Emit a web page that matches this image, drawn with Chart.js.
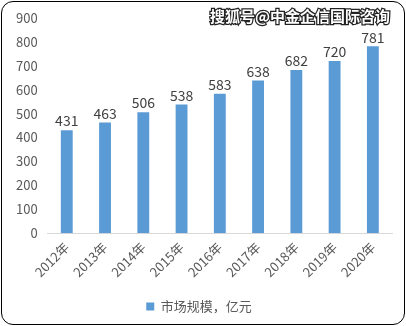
<!DOCTYPE html>
<html>
<head>
<meta charset="utf-8">
<script src="https://cdn.jsdelivr.net/npm/chart.js@4"></script>
<style>
  body { margin: 0; background: #fff; }
  #wrap { position: relative; width: 406px; height: 326px; }
  #frame { position: absolute; left: 1px; top: 1px; width: 402px; height: 322px;
           border: 1px solid #000; border-radius: 12px; pointer-events: none; }
</style>
</head>
<body>
<div id="wrap">
  <canvas id="barChart" width="406" height="326"></canvas>
  <div id="frame"></div>
</div>
<script>
const years = ["2012年", "2013年", "2014年", "2015年", "2016年", "2017年", "2018年", "2019年", "2020年"];
const marketSize = [431, 463, 506, 538, 583, 638, 682, 720, 781];
const seriesName = "市场规模，亿元";
const watermark = "搜狐号@中金企信国际咨询";

const fontFamily = "'Noto Sans CJK SC', 'Noto Sans', sans-serif";

// values above bars + watermark
const labelPlugin = {
  id: "barLabels",
  afterDatasetsDraw(chart) {
    const ctx = chart.ctx;
    const meta = chart.getDatasetMeta(0);
    ctx.save();
    ctx.font = "14px " + fontFamily;
    ctx.fillStyle = "#404040";
    ctx.textAlign = "center";
    ctx.textBaseline = "bottom";
    meta.data.forEach((bar, i) => {
      ctx.fillText(marketSize[i], bar.x, bar.y - 2);
    });
    ctx.restore();
  },
  afterDraw(chart) {
    const ctx = chart.ctx;
    ctx.save();
    ctx.font = "bold 15px " + fontFamily;
    ctx.textAlign = "right";
    ctx.textBaseline = "middle";
    ctx.lineWidth = 2.5;
    ctx.strokeStyle = "#222";
    ctx.strokeText(watermark, 390, 16);
    ctx.fillStyle = "#fff";
    ctx.fillText(watermark, 390, 16);
    ctx.restore();
  }
};

new Chart(document.getElementById("barChart"), {
  type: "bar",
  data: {
    labels: years,
    datasets: [{
      label: seriesName,
      data: marketSize,
      backgroundColor: "#5b9bd5",
      barPercentage: 0.31,
      categoryPercentage: 1
    }]
  },
  options: {
    responsive: false,
    animation: false,
    layout: { padding: { top: 7, left: 6, right: 14, bottom: 3 } },
    scales: {
      y: {
        min: 0,
        max: 900,
        ticks: { stepSize: 100, color: "#595959", font: { size: 13, family: fontFamily }, padding: 10 },
        grid: { display: false, drawTicks: false },
        border: { display: false }
      },
      x: {
        ticks: { minRotation: 45, maxRotation: 45, color: "#595959", font: { size: 13, family: fontFamily }, padding: 6 },
        grid: { display: false, drawTicks: false },
        border: { display: true, color: "#d9d9d9" }
      }
    },
    plugins: {
      legend: {
        position: "bottom",
        labels: { boxWidth: 8, boxHeight: 8, color: "#595959", font: { size: 13, family: fontFamily }, padding: 14 }
      },
      tooltip: { enabled: false }
    }
  },
  plugins: [labelPlugin]
});
</script>
</body>
</html>
